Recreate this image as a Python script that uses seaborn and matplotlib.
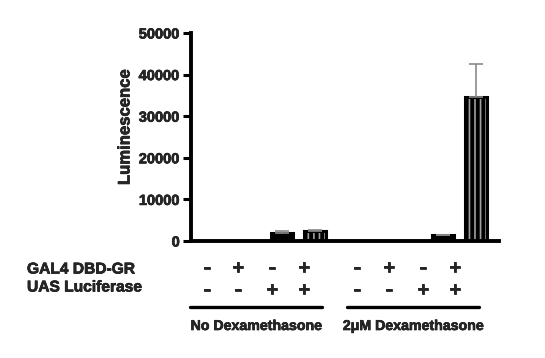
import matplotlib
matplotlib.use("Agg")
import matplotlib.pyplot as plt
from matplotlib import font_manager as fm
from matplotlib import patheffects as pe
from matplotlib.colors import to_rgba
import seaborn as sns
import numpy as np
import pandas as pd

# ---- data ----
conditions = ["No Dex -/-", "No Dex +/-", "No Dex -/+", "No Dex +/+",
              "2uM Dex -/-", "2uM Dex +/-", "2uM Dex -/+", "2uM Dex +/+"]
luminescence = [20, 20, 2000, 2350, 20, 20, 1350, 34500]
errors = [0, 0, 330, 180, 0, 0, 80, 8000]
gal4_signs = ["-", "+", "-", "+", "-", "+", "-", "+"]
uas_signs = ["-", "-", "+", "+", "-", "-", "+", "+"]
group_titles = ["No Dexamethasone", "2\u03bcM Dexamethasone"]
row_labels = ["GAL4 DBD-GR", "UAS Luciferase"]
yticks = [0, 10000, 20000, 30000, 40000, 50000]

# ---- layout constants ----
xpos = [0, 1, 2, 3, 4.85, 5.85, 6.85, 7.85]
hatched = [False, False, False, True, False, False, False, True]

sns.set_theme(style="white")

bold_path = None
for f in fm.fontManager.ttflist:
    if f.fname.endswith("LiberationSans-Bold.ttf"):
        bold_path = f.fname
        break


def fp(size):
    if bold_path:
        return fm.FontProperties(fname=bold_path, size=size)
    return fm.FontProperties(family=["Liberation Sans", "DejaVu Sans"],
                             weight="bold", size=size)


heavy = [pe.withStroke(linewidth=0.45, foreground="black")]

plt.rcParams["font.family"] = ["Liberation Sans", "DejaVu Sans"]
plt.rcParams["font.weight"] = "bold"

W, H = 545, 358
fig = plt.figure(figsize=(W / 100, H / 100), dpi=100)
ax = fig.add_axes([191 / W, 1 - 241 / H, (499 - 191) / W, (241 - 33) / H])

df = pd.DataFrame({"x": xpos, "y": luminescence})
sns.barplot(data=df, x="x", y="y", native_scale=True, width=0.67,
            color="black", saturation=1, edgecolor="black", linewidth=2.2,
            errorbar=None, ax=ax)

gray = to_rgba("#a0a0a0")
for p, h in zip(ax.patches, hatched):
    if h:
        p.set_hatch("|||")
        if hasattr(p, "set_hatchcolor"):
            p.set_hatchcolor(gray)
        else:
            p._hatch_color = gray
        if hasattr(p, "set_hatch_linewidth"):
            p.set_hatch_linewidth(1.2)

ax.errorbar(xpos, luminescence, yerr=[np.zeros(len(errors)), errors],
            fmt="none", ecolor="#8a8a8a", elinewidth=1.2, capsize=5,
            capthick=1.2, zorder=1)

ax.set_xlim(-0.75, 8.54)
ax.set_ylim(0, 50000)
ax.set_yticks(yticks)
ax.set_yticklabels([str(t) for t in yticks])
for lab in ax.get_yticklabels():
    lab.set_fontproperties(fp(10.5))
    lab.set_path_effects(heavy)
ax.set_xticks([])
ax.set_xlabel("")
ax.set_ylabel("Luminescence", fontproperties=fp(12))
ax.yaxis.label.set_path_effects(heavy)
ax.yaxis.set_label_coords(-0.19, 0.546)
for s in ["top", "right"]:
    ax.spines[s].set_visible(False)
for s in ["left", "bottom"]:
    ax.spines[s].set_linewidth(2.8)
    ax.spines[s].set_color("black")
ax.tick_params(axis="y", direction="out", length=6, width=2.2, color="black",
               pad=2, left=True)

# ---- condition table below ----
sign_px = [207, 238, 272, 304, 357, 389, 423, 455]
for sx, g, u in zip(sign_px, gal4_signs, uas_signs):
    fig.text(sx / W, 1 - 268 / H, g, ha="center", va="center",
             fontproperties=fp(14.5), path_effects=heavy)
    fig.text(sx / W, 1 - 290 / H, u, ha="center", va="center",
             fontproperties=fp(14.5), path_effects=heavy)
fig.text(27 / W, 1 - 269 / H, row_labels[0], ha="left", va="center",
         fontproperties=fp(11.2), path_effects=heavy)
fig.text(27 / W, 1 - 287 / H, row_labels[1], ha="left", va="center",
         fontproperties=fp(11.2), path_effects=heavy)

for (x0, x1), title in zip([(190, 322), (347, 479)], group_titles):
    fig.add_artist(plt.Line2D([x0 / W, x1 / W], [1 - 307 / H, 1 - 307 / H],
                              color="black", lw=2.4))
    fig.text((x0 + x1) / 2 / W, 1 - 326 / H, title, ha="center", va="center",
             fontproperties=fp(10.2), path_effects=heavy)

fig.savefig("out.png", dpi=100, facecolor="white")
